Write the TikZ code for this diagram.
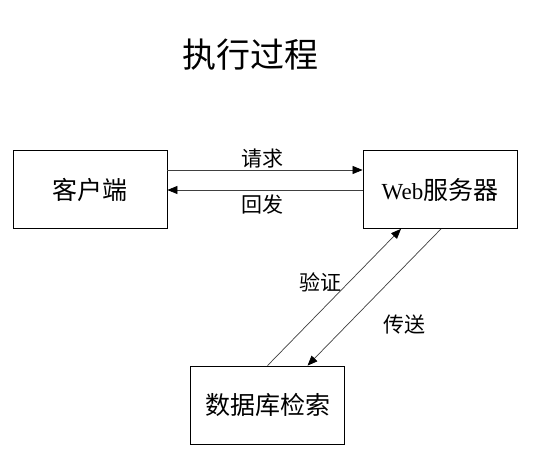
\documentclass[tikz,border=0pt]{standalone}
\usepackage{fontspec}
\setmainfont{Liberation Serif}
\newfontfamily\cjk{Noto Sans CJK SC}
\usetikzlibrary{arrows.meta}
\tikzset{
  box/.style={draw=black, line width=0.8pt, minimum width=154pt, minimum height=78pt, inner sep=0pt, font=\cjk\fontsize{25pt}{28pt}\selectfont},
  link/.style={draw=black!75, line width=0.7pt, -{Triangle[length=10pt,width=8pt,black]}},
  lbl/.style={inner sep=0pt, font=\cjk\fontsize{21pt}{24pt}\selectfont},
}
\begin{document}
\begin{tikzpicture}[x=1pt,y=-1pt]
\useasboundingbox[fill=white] (0,0) rectangle (536,458);
\node[inner sep=0pt, font=\cjk\fontsize{34pt}{38pt}\selectfont] (title) at (250,55) {执行过程};
\node[box] (client) at (90,189.5) {客户端};
\node[box] (web) at (440,189.5) {{\rmfamily\fontsize{23pt}{26pt}\selectfont Web}服务器};
\node[box] (db) at (267.5,405) {数据库检索};
\draw[link] ([yshift=19.5pt]client.east) -- ([yshift=19.5pt]web.west);
\draw[link] ([yshift=-0.5pt]web.west) -- ([yshift=-0.5pt]client.east);
\draw[link] (db.north) -- ([xshift=-39pt]web.south);
\draw[link] ([xshift=1pt]web.south) -- ([xshift=40pt]db.north);
\node[lbl] (req) at (262,159) {请求};
\node[lbl] (ret) at (262,205) {回发};
\node[lbl] (ver) at (320,282) {验证};
\node[lbl] (send) at (404,325) {传送};
\end{tikzpicture}
\end{document}
